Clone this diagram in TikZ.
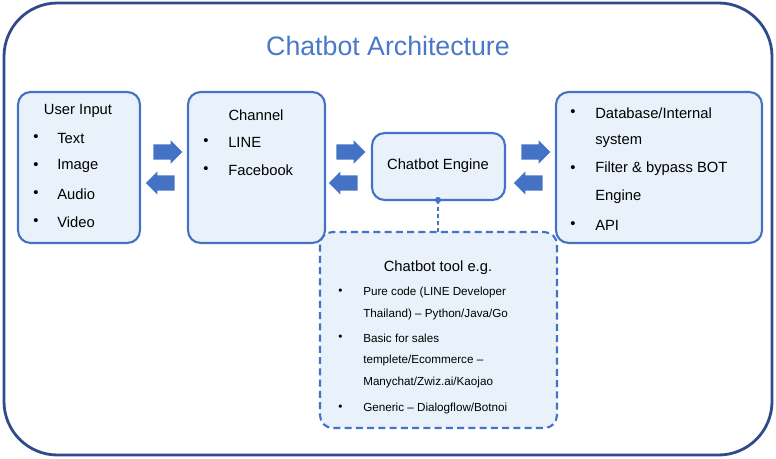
\documentclass[tikz,border=0pt]{standalone}
\usepackage{fontspec}
\setmainfont{Liberation Sans}
\usetikzlibrary{shapes.arrows}
\definecolor{frameblue}{HTML}{2F4B8C}
\definecolor{boxblue}{HTML}{4472C4}
\definecolor{boxfill}{HTML}{E9F2FB}
\definecolor{titleblue}{HTML}{4A78C8}
\begin{document}
\begin{tikzpicture}[x=0.025cm,y=-0.025cm,
    box/.style={draw=boxblue,line width=1.5pt,fill=boxfill,rounded corners=9pt},
    txt/.style={anchor=west,inner sep=0pt,font=\fontsize{10.5}{12}\selectfont},
    small/.style={anchor=west,inner sep=0pt,font=\fontsize{8.3}{10}\selectfont},
    head/.style={inner sep=0pt,font=\fontsize{10.5}{12}\selectfont},
    blk/.style={single arrow,fill=boxblue,draw=none,minimum height=0.72cm,
        minimum width=0.58cm,single arrow head extend=0.09cm,
        inner xsep=0pt,inner ysep=0.17cm}]

\useasboundingbox (0,0) rectangle (776,459);
\draw[frameblue,line width=2pt,rounded corners=38pt] (4,3) rectangle (772,455);
\node (title) at (388,46) {\color{titleblue}\fontsize{19}{22}\selectfont Chatbot Architecture};

% boxes
\draw[box] (18,92) rectangle (140,243);
\draw[box] (188,92) rectangle (325,243);
\draw[box] (372,133) rectangle (505,200);
\draw[box] (556,92) rectangle (762,243);
\draw[box,dash pattern=on 5pt off 3pt] (320,232) rectangle (557,428);

\node[head] (userin) at (78,111) {User Input};
\foreach \t [count=\i] in {Text,Image,Audio,Video} {
    \node[txt] (ub\i) at (33,110+28*\i) {•};
    \node[txt] (ut\i) at (57,110+28*\i) {\t};
}

\node[head] (channel) at (256,115) {Channel};
\foreach \t [count=\i] in {LINE,Facebook} {
    \node[txt] (cb\i) at (203,114+28*\i) {•};
    \node[txt] (ct\i) at (228,114+28*\i) {\t};
}

\node[head] (engine) at (438,166) {Chatbot Engine};

\foreach \t [count=\i] in {Database/Internal,system,Filter \& bypass BOT,Engine,API}
    \node[txt] (rt\i) at (595,85+28*\i) {\t};
\foreach \y [count=\i] in {113,169,225}
    \node[txt] (rb\i) at (570,\y) {•};

\node[head] (tooltitle) at (438,268) {Chatbot tool e.g.};
\foreach \t [count=\i] in {Pure code (LINE Developer,Thailand) -- Python/Java/Go,
    Basic for sales,templete/Ecommerce --,Manychat/Zwiz.ai/Kaojao,
    Generic -- Dialogflow/Botnoi} {
    \pgfmathsetmacro{\yy}{{292,314,338,360,382,408}[\i-1]}
    \node[small] (tt\i) at (363,\yy) {\t};
}
\foreach \y [count=\i] in {292,338,408}
    \node[small] (tb\i) at (338,\y) {•};

% block arrows
\foreach \x [count=\i] in {164,347,532} {
    \node[blk] (ar\i) at (\x,152) {};
    \node[blk,shape border rotate=180] (al\i) at (\x,183) {};
}

% link engine to tool
\coordinate (tooltop) at (438,232);
\coordinate (enginebot) at (438,200);
\draw[boxblue,line width=1.5pt,dash pattern=on 3pt off 2pt] (enginebot) -- (tooltop);
\fill[boxblue] (enginebot) circle (2.2pt);
\end{tikzpicture}
\end{document}
